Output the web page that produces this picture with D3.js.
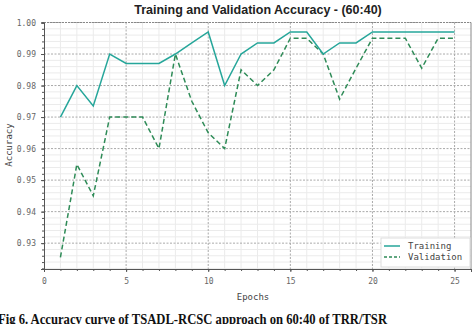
<!DOCTYPE html>
<html><head><meta charset="utf-8">
<script src="https://cdn.jsdelivr.net/npm/d3@7"></script>
<style>body{margin:0;background:#fff;}svg{display:block;}</style>
</head><body>
<svg id="c" width="474" height="324"></svg>
<script>
const epochs = [1,2,3,4,5,6,7,8,9,10,11,12,13,14,15,16,17,18,19,20,21,22,23,24,25];
const training = [0.970,0.980,0.9735,0.990,0.987,0.987,0.987,0.990,0.9935,0.997,0.980,0.990,0.9935,0.9935,0.997,0.997,0.990,0.9935,0.9935,0.997,0.997,0.997,0.997,0.997,0.997];
const validation = [0.9255,0.955,0.945,0.970,0.970,0.970,0.960,0.990,0.975,0.965,0.960,0.985,0.980,0.985,0.995,0.995,0.990,0.9757,0.9855,0.995,0.995,0.995,0.9855,0.995,0.995];
const yTicks = [0.93,0.94,0.95,0.96,0.97,0.98,0.99,1.00];
const xTicks = [0,5,10,15,20,25];
const seriesNames = ["Training","Validation"];

const svg = d3.select("#c");
const L=44, R=471, T=22.5, B=269;
const x = d3.scaleLinear().domain([0,26]).range([L,R]);
const y = d3.scaleLinear().domain([0.9218,1.0]).range([B,T]);
const mono = "'DejaVu Sans Mono', monospace";

// minor grid
const g = svg.append("g");
d3.range(1,26).filter(v=>v%5!==0).forEach(v=>{
  g.append("line").attr("x1",x(v)).attr("x2",x(v)).attr("y1",T).attr("y2",B).attr("stroke","#ebebeb").attr("stroke-width",1);
});
const minorY = d3.range(0,40).map(i=>+(0.922+i*0.002).toFixed(3)).filter(v=>v<1.0 && Math.round(v*1000)%10!==0);
minorY.forEach(v=>{
  g.append("line").attr("x1",L).attr("x2",R).attr("y1",y(v)).attr("y2",y(v)).attr("stroke","#ebebeb").attr("stroke-width",1);
});
// major grid
xTicks.filter(v=>v>0).forEach(v=>{
  g.append("line").attr("x1",x(v)).attr("x2",x(v)).attr("y1",T).attr("y2",B).attr("stroke","#aaa").attr("stroke-dasharray","2,1.5");
});
yTicks.forEach(v=>{
  g.append("line").attr("x1",L).attr("x2",R).attr("y1",y(v)).attr("y2",y(v)).attr("stroke","#aaa").attr("stroke-dasharray","2,1.5");
});
// frame top/right
svg.append("line").attr("x1",L).attr("x2",R).attr("y1",T).attr("y2",T).attr("stroke","#888").attr("stroke-dasharray","2,1");
svg.append("line").attr("x1",R).attr("x2",R).attr("y1",T).attr("y2",B).attr("stroke","#888");

// axes
const xAxis = svg.append("g").attr("transform",`translate(0,${B})`)
  .call(d3.axisBottom(x).tickValues(xTicks).tickFormat(d3.format("d")).tickSize(3).tickPadding(6));
const xMinor = svg.append("g").attr("transform",`translate(0,${B})`)
  .call(d3.axisBottom(x).tickValues(d3.range(0,27)).tickFormat("").tickSize(2));
const yAxis = svg.append("g").attr("transform",`translate(${L},0)`)
  .call(d3.axisLeft(y).tickValues(yTicks).tickFormat(d3.format(".2f")).tickSize(3).tickPadding(5));
const yMinor = svg.append("g").attr("transform",`translate(${L},0)`)
  .call(d3.axisLeft(y).tickValues(d3.range(0,40).map(i=>0.922+i*0.002).filter(v=>v<=1.0001)).tickFormat("").tickSize(2));
[xAxis,xMinor,yAxis,yMinor].forEach(a=>{
  a.select(".domain").attr("stroke","#555");
  a.selectAll(".tick line").attr("stroke","#555");
  a.selectAll("text").attr("font-family",mono).attr("font-size",8).attr("fill","#666");
});

// lines
const line = d3.line().x((d,i)=>x(epochs[i])).y(d=>y(d));
svg.append("path").datum(validation).attr("d",line).attr("fill","none")
  .attr("stroke","#2e8b57").attr("stroke-width",1.5).attr("stroke-dasharray","5,3");
svg.append("path").datum(training).attr("d",line).attr("fill","none")
  .attr("stroke","#26a69a").attr("stroke-width",1.5);

// legend
const lg = svg.append("g");
lg.append("rect").attr("x",381).attr("y",238).attr("width",89).attr("height",29).attr("fill","#fff").attr("stroke","#ddd");
const cols=["#26a69a","#2e8b57"], dashes=[null,"3,2"];
seriesNames.forEach((n,i)=>{
  const yy = 246 + i*11;
  lg.append("line").attr("x1",384).attr("x2",400).attr("y1",yy).attr("y2",yy).attr("stroke",cols[i]).attr("stroke-width",1.5).attr("stroke-dasharray",dashes[i]);
  lg.append("text").attr("x",408).attr("y",yy+3).text(n).attr("font-family",mono).attr("font-size",9).attr("fill","#444");
});

// title & labels
svg.append("text").attr("x",258).attr("y",14).attr("text-anchor","middle")
  .attr("font-family","'Liberation Sans', Arial, sans-serif").attr("font-weight","bold").attr("font-size",12.5).attr("fill","#222")
  .text("Training and Validation Accuracy - (60:40)");
svg.append("text").attr("x",253).attr("y",300).attr("text-anchor","middle")
  .attr("font-family",mono).attr("font-size",9).attr("fill","#444").text("Epochs");
svg.append("text").attr("transform","translate(12,145) rotate(-90)").attr("text-anchor","middle")
  .attr("font-family",mono).attr("font-size",9).attr("fill","#444").text("Accuracy");

// caption
svg.append("text").attr("x",-2).attr("y",324).attr("font-family","'Liberation Serif', 'Times New Roman', serif")
  .attr("font-weight","bold").attr("font-size",14).attr("fill","#111")
  .attr("textLength",389).attr("lengthAdjust","spacingAndGlyphs")
  .text("Fig 6. Accuracy curve of TSADL-RCSC approach on 60:40 of TRR/TSR");
</script>
</body></html>
